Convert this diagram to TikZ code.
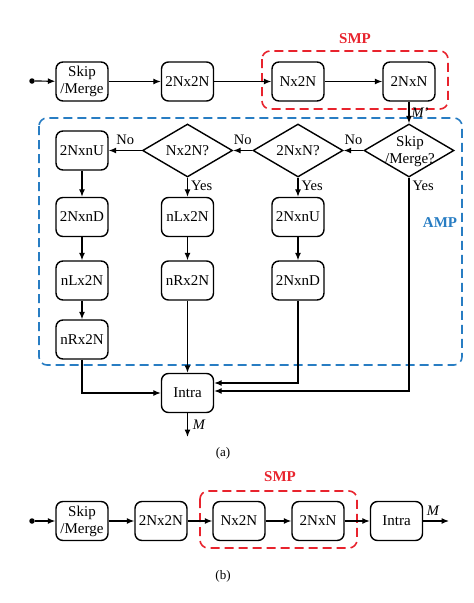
\documentclass[tikz,border=0pt]{standalone}
\usepackage{fontspec}
\setmainfont{Liberation Serif}
\usetikzlibrary{shapes.geometric,arrows.meta}
\definecolor{smpred}{RGB}{232,35,45}
\definecolor{ampblue}{RGB}{40,125,195}
\begin{document}
\begin{tikzpicture}[x=1pt,y=-1pt,
  box/.style={draw,rounded corners=7pt,line width=1.4pt,minimum width=52pt,minimum height=39pt,inner sep=0pt,font=\fontsize{15}{17}\selectfont,align=center},
  dia/.style={draw,diamond,line width=1.4pt,minimum width=90pt,minimum height=53pt,inner sep=0pt},
  dtext/.style={font=\fontsize{15}{17}\selectfont,align=center,inner sep=0pt},
  arr/.style={line width=1.2pt,-{Latex[length=7.5pt,width=6pt]}},
  lab/.style={font=\fontsize{14.5}{14.5}\selectfont,inner sep=0pt},
  ilab/.style={font=\itshape\fontsize{14.5}{14.5}\selectfont,inner sep=0pt},
  smp/.style={draw=smpred,dash pattern=on 9pt off 5pt,line width=1.6pt,rounded corners=8pt},
  amp/.style={draw=ampblue,dash pattern=on 9pt off 5pt,line width=1.6pt,rounded corners=8pt},
  dot/.style={circle,fill,inner sep=0pt,minimum size=5.5pt}
]
\useasboundingbox (0,0) rectangle (474,603);

% ---------- (a) ----------
\draw[smp] (262,51) rectangle (448,109);
\node[font=\bfseries\fontsize{15}{15}\selectfont,text=smpred] (smpa) at (355,39) {SMP};
\draw[amp] (39,118) rectangle (462,365);
\node[font=\bfseries\fontsize{15}{15}\selectfont,text=ampblue] (ampa) at (440,223) {AMP};

\node[dot] (s0) at (32,81) {};
\node[box] (sm) at (82,81.5) {Skip\\/Merge};
\node[box] (a2n) at (187.5,81.5) {2Nx2N};
\node[box] (anx) at (298,81.5) {Nx2N};
\node[box] (a2nn) at (409,81.5) {2NxN};

\node[dia] (d1) at (409,150.5) {};
\node[dtext] (d1t) at (410,151) {Skip\\/Merge?};
\node[dia] (d2) at (298,150.5) {};
\node[dtext] (d2t) at (298,151) {2NxN?};
\node[dia] (d3) at (187.5,150.5) {};
\node[dtext] (d3t) at (187.5,151) {Nx2N?};

\node[box] (l1) at (82,150.5) {2NxnU};
\node[box] (l2) at (82,217) {2NxnD};
\node[box] (l3) at (82,280.5) {nLx2N};
\node[box] (l4) at (82,339.5) {nRx2N};
\node[box] (m1) at (187.5,217) {nLx2N};
\node[box] (m2) at (187.5,280.5) {nRx2N};
\node[box] (r1) at (298,217) {2NxnU};
\node[box] (r2) at (298,280.5) {2NxnD};
\node[box] (intra) at (187.5,393) {Intra};
\coordinate (aout) at (187.5,437);

\draw[arr] (s0) -- (sm);
\draw[arr] (sm) -- (a2n);
\draw[arr] (a2n) -- (anx);
\draw[arr] (anx) -- (a2nn);
\draw[arr] (a2nn) -- (d1) node[pos=0.5,right=2pt,ilab] {M'};
\draw[arr] (d1) -- (d2) node[lab,pos=0.5,above=5pt] {No};
\draw[arr] (d2) -- (d3) node[lab,pos=0.5,above=5pt] {No};
\draw[arr] (d3) -- (l1) node[lab,pos=0.5,above=5pt] {No};
\draw[arr] (d3) -- (m1) node[lab,pos=0.45,right=3pt] {Yes};
\draw[arr] (d2) -- (r1) node[lab,pos=0.45,right=3pt] {Yes};
\draw[arr] (d1.south) -- (409,391) node[lab,pos=0.04,right=3pt] {Yes} -- (intra.east |- 0,391);
\draw[arr] (l1) -- (l2);
\draw[arr] (l2) -- (l3);
\draw[arr] (l3) -- (l4);
\draw[arr] (l4) |- (intra);
\draw[arr] (m1) -- (m2);
\draw[arr] (m2) -- (intra);
\draw[arr] (r1) -- (r2);
\draw[arr] (r2) |- (intra.east |- 0,383);
\draw[arr] (intra) -- (aout);
\node[ilab] (mlab) at (199,425) {M};
\node[font=\fontsize{13}{13}\selectfont] (capa) at (223,453) {(a)};

% ---------- (b) ----------
\draw[smp] (200,491) rectangle (357,548);
\node[font=\bfseries\fontsize{15}{15}\selectfont,text=smpred] (smpb) at (280,477) {SMP};
\node[dot] (t0) at (32,521) {};
\node[box] (bsm) at (82,521) {Skip\\/Merge};
\node[box] (b2n) at (161,521) {2Nx2N};
\node[box] (bnx) at (239,521) {Nx2N};
\node[box] (b2nn) at (318,521) {2NxN};
\node[box] (bintra) at (396.5,521) {Intra};
\coordinate (bout) at (449,521);
\draw[arr] (t0) -- (bsm);
\draw[arr] (bsm) -- (b2n);
\draw[arr] (b2n) -- (bnx);
\draw[arr] (bnx) -- (b2nn);
\draw[arr] (b2nn) -- (bintra);
\draw[arr] (bintra) -- (bout);
\node[ilab] (mlabb) at (433,511) {M};
\node[font=\fontsize{13}{13}\selectfont] (capb) at (223,576) {(b)};
\end{tikzpicture}
\end{document}
